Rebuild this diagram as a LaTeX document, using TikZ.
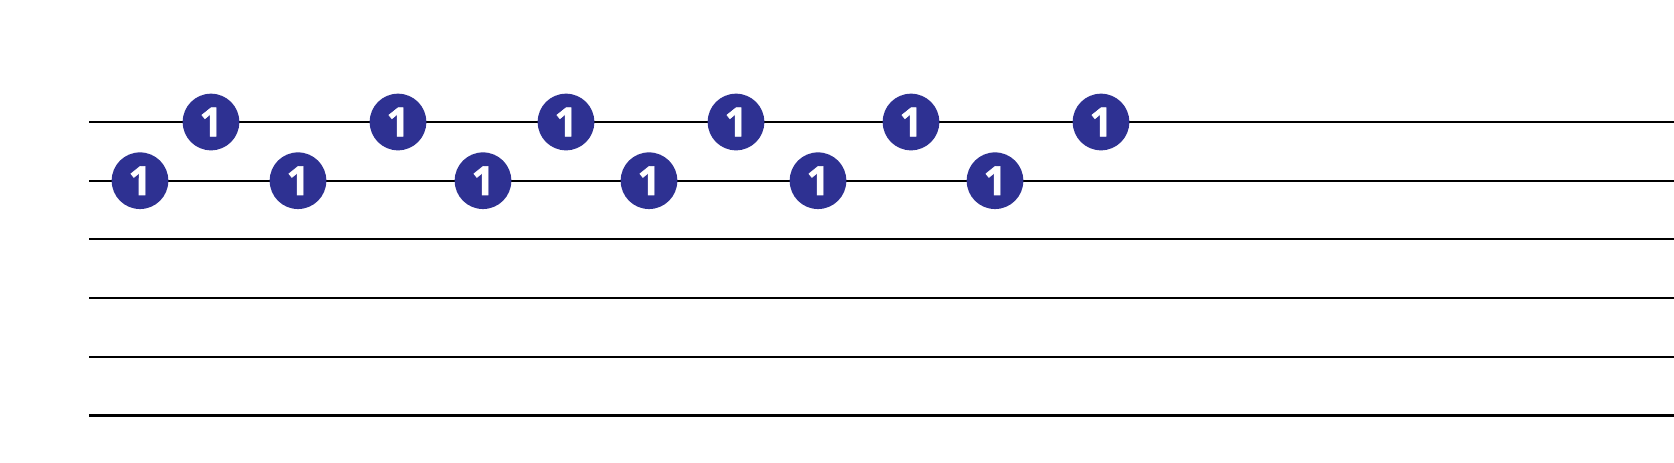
\documentclass[tikz,border=0pt]{standalone}
\usepackage{fontspec}
\setsansfont{Open Sans}
\newfontfamily\fingerfont[FakeBold=1.6]{Open Sans Bold}
\usetikzlibrary{positioning}
\definecolor{notefill}{RGB}{46,49,146}
\tikzset{
  string/.style={line width=1.6pt, black},
  finger/.style={circle, fill=notefill, text=white, minimum size=42.5pt, inner sep=0pt,
    font=\fingerfont\fontsize{30}{30}\selectfont},
}

\begin{document}
\begin{tikzpicture}[x=0.75pt, y=-0.75pt]
    \useasboundingbox (0,0) rectangle (1674,462);
    % Draw the six strings
    \draw[string] (89,122.0) -- (1674,122.0);
    \draw[string] (89,180.7) -- (1674,180.7);
    \draw[string] (89,239.4) -- (1674,239.4);
    \draw[string] (89,298.1) -- (1674,298.1);
    \draw[string] (89,356.8) -- (1674,356.8);
    \draw[string] (89,415.5) -- (1674,415.5);
    % Draw the notes, alternating between the two upper strings
    \node[finger] (note1) at (140,180.7) {1};
    \node[finger] (note2) at (211,122.0) {1};
    \node[finger] (note3) at (298,180.7) {1};
    \node[finger] (note4) at (398,122.0) {1};
    \node[finger] (note5) at (483,180.7) {1};
    \node[finger] (note6) at (566,122.0) {1};
    \node[finger] (note7) at (649,180.7) {1};
    \node[finger] (note8) at (736,122.0) {1};
    \node[finger] (note9) at (818,180.7) {1};
    \node[finger] (note10) at (911,122.0) {1};
    \node[finger] (note11) at (995,180.7) {1};
    \node[finger] (note12) at (1101,122.0) {1};
  \end{tikzpicture}
\end{document}
